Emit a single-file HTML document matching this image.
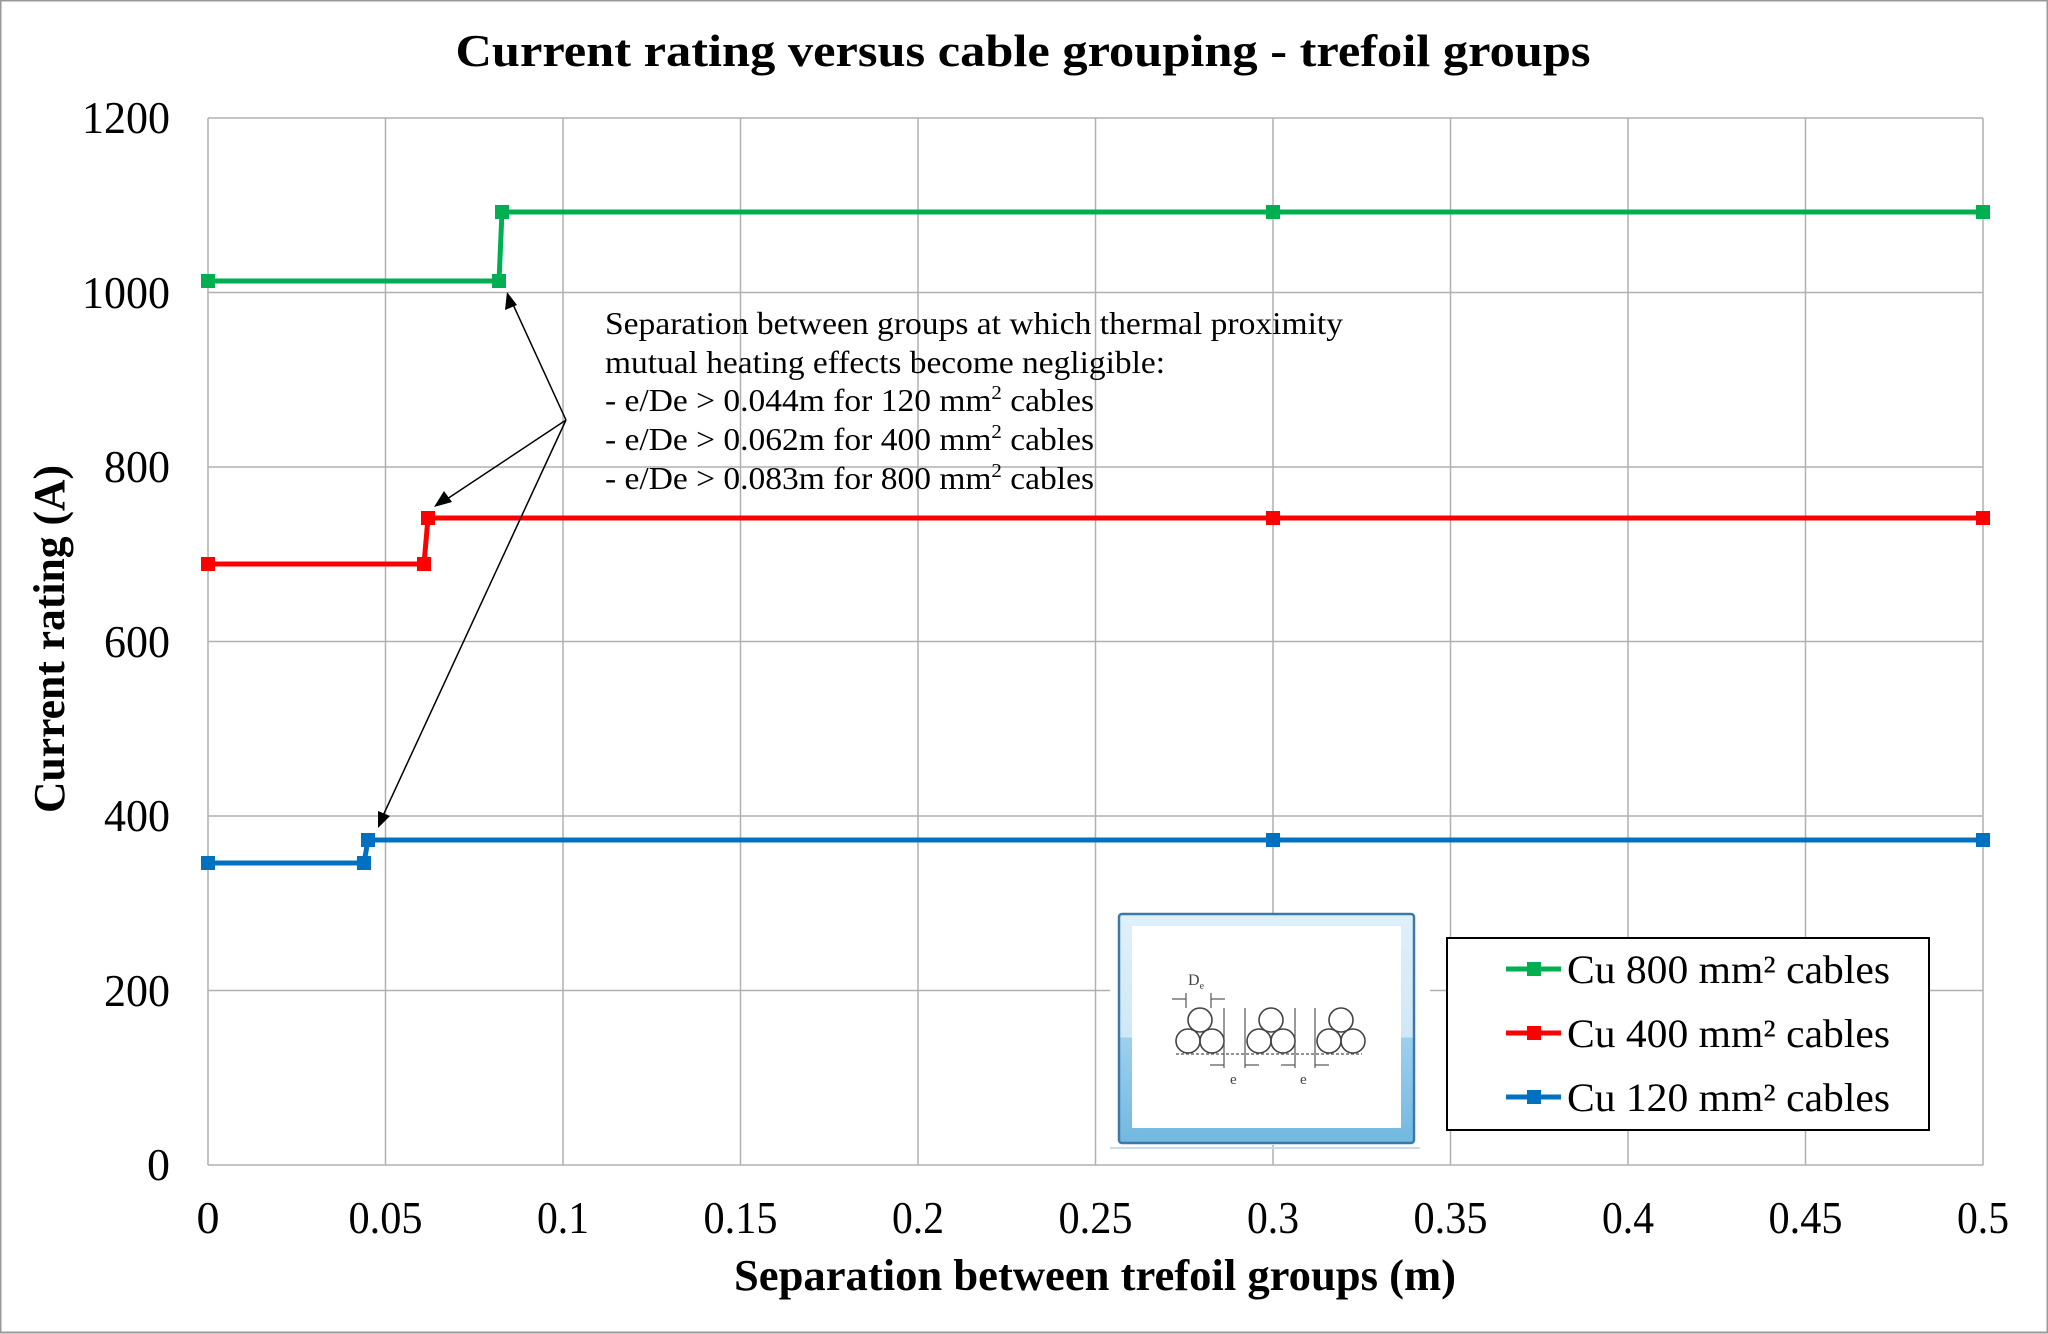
<!DOCTYPE html>
<html><head><meta charset="utf-8"><style>
html,body{margin:0;padding:0;background:#fff;}
svg{display:block;}
text{font-family:"Liberation Serif",serif;}
</style></head><body>
<svg width="2048" height="1334" viewBox="0 0 2048 1334" xmlns="http://www.w3.org/2000/svg">
<rect x="0.5" y="0.5" width="2047" height="1332" fill="#fff" stroke="#999" stroke-width="2"/>
<text x="1023" y="66" font-size="45" font-weight="bold" text-anchor="middle" textLength="1135" lengthAdjust="spacingAndGlyphs">Current rating versus cable grouping - trefoil groups</text>
<g stroke="#b0b0b0" stroke-width="1.5" fill="none">
<line x1="208" y1="118" x2="1983" y2="118"/>
<line x1="208" y1="292.5" x2="1983" y2="292.5"/>
<line x1="208" y1="467" x2="1983" y2="467"/>
<line x1="208" y1="641.5" x2="1983" y2="641.5"/>
<line x1="208" y1="816" x2="1983" y2="816"/>
<line x1="208" y1="990.5" x2="1983" y2="990.5"/>
<line x1="208" y1="1165" x2="1983" y2="1165"/>
<line x1="208" y1="118" x2="208" y2="1165"/>
<line x1="385.5" y1="118" x2="385.5" y2="1165"/>
<line x1="563" y1="118" x2="563" y2="1165"/>
<line x1="740.5" y1="118" x2="740.5" y2="1165"/>
<line x1="918" y1="118" x2="918" y2="1165"/>
<line x1="1095.5" y1="118" x2="1095.5" y2="1165"/>
<line x1="1273" y1="118" x2="1273" y2="1165"/>
<line x1="1450.5" y1="118" x2="1450.5" y2="1165"/>
<line x1="1628" y1="118" x2="1628" y2="1165"/>
<line x1="1805.5" y1="118" x2="1805.5" y2="1165"/>
<line x1="1983" y1="118" x2="1983" y2="1165"/>
</g>
<g font-size="46" text-anchor="end">
<text x="170" y="133" textLength="88" lengthAdjust="spacingAndGlyphs">1200</text>
<text x="170" y="308" textLength="88" lengthAdjust="spacingAndGlyphs">1000</text>
<text x="170" y="482" textLength="66" lengthAdjust="spacingAndGlyphs">800</text>
<text x="170" y="657" textLength="66" lengthAdjust="spacingAndGlyphs">600</text>
<text x="170" y="831" textLength="66" lengthAdjust="spacingAndGlyphs">400</text>
<text x="170" y="1006" textLength="66" lengthAdjust="spacingAndGlyphs">200</text>
<text x="170" y="1180">0</text>
</g>
<g font-size="46" text-anchor="middle">
<text x="208" y="1233">0</text>
<text x="385.5" y="1233" textLength="74" lengthAdjust="spacingAndGlyphs">0.05</text>
<text x="563" y="1233" textLength="52" lengthAdjust="spacingAndGlyphs">0.1</text>
<text x="740.5" y="1233" textLength="74" lengthAdjust="spacingAndGlyphs">0.15</text>
<text x="918" y="1233" textLength="52" lengthAdjust="spacingAndGlyphs">0.2</text>
<text x="1095.5" y="1233" textLength="74" lengthAdjust="spacingAndGlyphs">0.25</text>
<text x="1273" y="1233" textLength="52" lengthAdjust="spacingAndGlyphs">0.3</text>
<text x="1450.5" y="1233" textLength="74" lengthAdjust="spacingAndGlyphs">0.35</text>
<text x="1628" y="1233" textLength="52" lengthAdjust="spacingAndGlyphs">0.4</text>
<text x="1805.5" y="1233" textLength="74" lengthAdjust="spacingAndGlyphs">0.45</text>
<text x="1983" y="1233" textLength="52" lengthAdjust="spacingAndGlyphs">0.5</text>
</g>
<text x="1095" y="1290" font-size="44" font-weight="bold" text-anchor="middle" textLength="722" lengthAdjust="spacingAndGlyphs">Separation between trefoil groups (m)</text>
<text transform="translate(64,639) rotate(-90)" font-size="44" font-weight="bold" text-anchor="middle" textLength="348" lengthAdjust="spacingAndGlyphs">Current rating (A)</text>
<g fill="none" stroke-width="5">
<polyline stroke="#00b050" points="208,281 499,281 502,212 1273,212 1983,212"/>
<polyline stroke="#ff0000" points="208,564 424,564 428,518 1273,518 1983,518"/>
<polyline stroke="#0070c0" points="208,863 364,863 368,840 1273,840 1983,840"/>
</g>
<g fill="#00b050"><rect x="201" y="274" width="14" height="14"/><rect x="492" y="274" width="14" height="14"/><rect x="495" y="205" width="14" height="14"/><rect x="1266" y="205" width="14" height="14"/><rect x="1976" y="205" width="14" height="14"/></g>
<g fill="#ff0000"><rect x="201" y="557" width="14" height="14"/><rect x="417" y="557" width="14" height="14"/><rect x="421" y="511" width="14" height="14"/><rect x="1266" y="511" width="14" height="14"/><rect x="1976" y="511" width="14" height="14"/></g>
<g fill="#0070c0"><rect x="201" y="856" width="14" height="14"/><rect x="357" y="856" width="14" height="14"/><rect x="361" y="833" width="14" height="14"/><rect x="1266" y="833" width="14" height="14"/><rect x="1976" y="833" width="14" height="14"/></g>
<g stroke="#000" stroke-width="1.5">
<line x1="566" y1="420" x2="511" y2="300"/>
<line x1="566" y1="420" x2="441" y2="503"/>
<line x1="566" y1="420" x2="381" y2="820"/>
</g>
<polygon points="507,292 505,310 517,305" fill="#000"/>
<polygon points="434,507 452,502 444,491" fill="#000"/>
<polygon points="378,828 378,811 390,816" fill="#000"/>
<g font-size="32">
<text x="605" y="334" textLength="738" lengthAdjust="spacingAndGlyphs">Separation between groups at which thermal proximity</text>
<text x="605" y="373" textLength="560" lengthAdjust="spacingAndGlyphs">mutual heating effects become negligible:</text>
<text x="605" y="411" textLength="489" lengthAdjust="spacingAndGlyphs">- e/De &gt; 0.044m for 120 mm<tspan font-size="20" dy="-12">2</tspan><tspan dy="12"> cables</tspan></text>
<text x="605" y="450" textLength="489" lengthAdjust="spacingAndGlyphs">- e/De &gt; 0.062m for 400 mm<tspan font-size="20" dy="-12">2</tspan><tspan dy="12"> cables</tspan></text>
<text x="605" y="489" textLength="489" lengthAdjust="spacingAndGlyphs">- e/De &gt; 0.083m for 800 mm<tspan font-size="20" dy="-12">2</tspan><tspan dy="12"> cables</tspan></text>
</g>
<defs><linearGradient id="g" x1="0" y1="0" x2="0" y2="1">
<stop offset="0" stop-color="#dff0fa"/><stop offset="0.54" stop-color="#cfe8f6"/><stop offset="0.54" stop-color="#9dd0ee"/><stop offset="1" stop-color="#72b8e0"/></linearGradient></defs>
<rect x="1110" y="913" width="320" height="232" fill="#fff"/>
<rect x="1119" y="914" width="295" height="229" rx="3" fill="url(#g)" stroke="#3d78a8" stroke-width="2.5"/>
<rect x="1132" y="926" width="269" height="202" fill="#fff"/>
<line x1="1110" y1="1148" x2="1420" y2="1148" stroke="#c8dcec" stroke-width="2"/>
<g fill="none" stroke="#444" stroke-width="1.6">
<circle cx="1200" cy="1020" r="12"/><circle cx="1188" cy="1041" r="12"/><circle cx="1212" cy="1041" r="12"/>
<circle cx="1271" cy="1020" r="12"/><circle cx="1259" cy="1041" r="12"/><circle cx="1283" cy="1041" r="12"/>
<circle cx="1341" cy="1020" r="12"/><circle cx="1329" cy="1041" r="12"/><circle cx="1353" cy="1041" r="12"/>
</g>
<g stroke="#555" stroke-width="1.2">
<line x1="1176" y1="1054" x2="1362" y2="1054" stroke-dasharray="3,2"/>
<line x1="1172" y1="999" x2="1186" y2="999"/><line x1="1211" y1="999" x2="1225" y2="999"/>
<line x1="1186" y1="993" x2="1186" y2="1008"/><line x1="1211" y1="993" x2="1211" y2="1008"/>
<line x1="1224" y1="1008" x2="1224" y2="1068"/><line x1="1245" y1="1008" x2="1245" y2="1068"/>
<line x1="1295" y1="1008" x2="1295" y2="1068"/><line x1="1315" y1="1008" x2="1315" y2="1068"/>
<line x1="1210" y1="1065" x2="1224" y2="1065"/><line x1="1245" y1="1065" x2="1259" y2="1065"/>
<line x1="1281" y1="1065" x2="1295" y2="1065"/><line x1="1315" y1="1065" x2="1329" y2="1065"/>
</g>
<text x="1188" y="985" font-family="Liberation Sans,sans-serif" font-size="16" fill="#444">D<tspan font-size="10" dy="4">e</tspan></text>
<text x="1230" y="1084" font-family="Liberation Sans,sans-serif" font-size="15" fill="#444">e</text>
<text x="1300" y="1084" font-family="Liberation Sans,sans-serif" font-size="15" fill="#444">e</text>
<rect x="1447" y="938" width="482" height="192" fill="#fff" stroke="#000" stroke-width="2"/>
<g stroke-width="5">
<line x1="1506" y1="969" x2="1561" y2="969" stroke="#00b050"/>
<line x1="1506" y1="1033" x2="1561" y2="1033" stroke="#ff0000"/>
<line x1="1506" y1="1097" x2="1561" y2="1097" stroke="#0070c0"/>
</g>
<rect x="1527" y="962" width="14" height="14" fill="#00b050"/>
<rect x="1527" y="1026" width="14" height="14" fill="#ff0000"/>
<rect x="1527" y="1090" width="14" height="14" fill="#0070c0"/>
<g font-size="40">
<text x="1567" y="983" textLength="323" lengthAdjust="spacingAndGlyphs">Cu 800 mm² cables</text>
<text x="1567" y="1047" textLength="323" lengthAdjust="spacingAndGlyphs">Cu 400 mm² cables</text>
<text x="1567" y="1111" textLength="323" lengthAdjust="spacingAndGlyphs">Cu 120 mm² cables</text>
</g>
</svg>
</body></html>
